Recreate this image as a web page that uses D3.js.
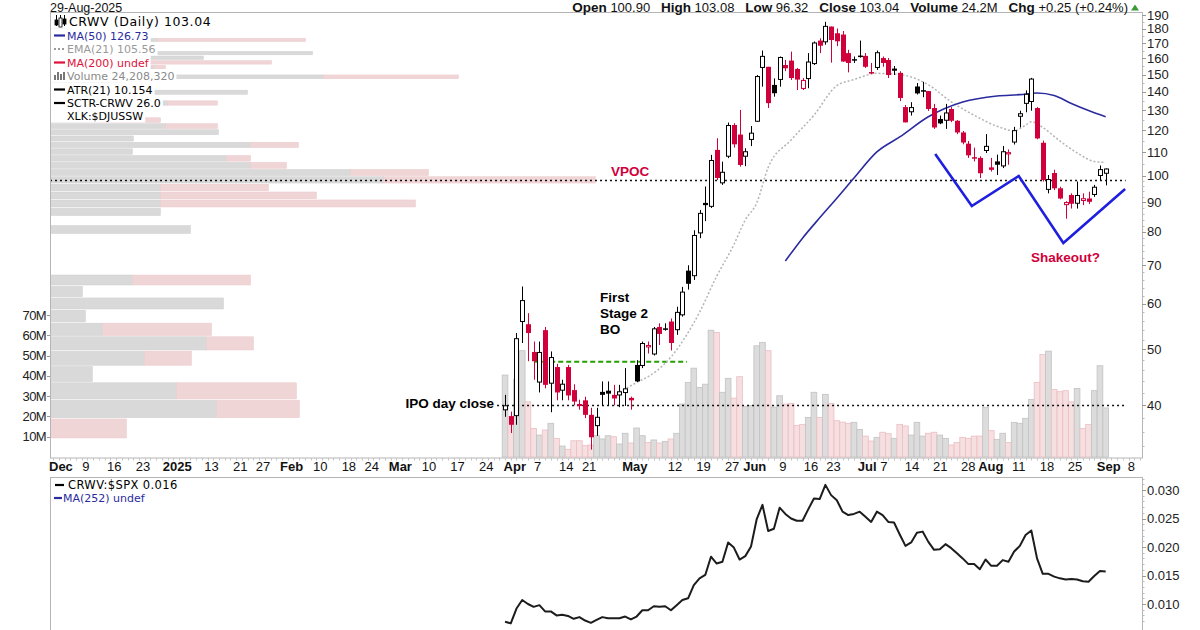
<!DOCTYPE html>
<html>
<head>
<meta charset="utf-8">
<script src="https://cdn.jsdelivr.net/npm/d3@7"></script>
<style>
body { margin: 0; background: #fff; }
svg { display: block; font-family: "Liberation Sans", Arial, sans-serif; }
</style>
</head>
<body>
<script>
'use strict';

// ---- daily candles, Mar 28 2025 (IPO) .. Aug 29 2025 ----
const opens = [39.2,38.3,38.3,55.8,55.3,49.5,43.8,54.0,43.6,46.6,42.4,46.6,42.5,40.0,40.8,38.5,36.8,42.2,42.4,41.7,
  41.6,42.0,41.2,47.0,46.8,50.4,49.0,54.7,54.4,55.9,54.0,57.3,68.5,67.0,79.5,89.8,88.4,111.0,97.1,108.0,
  122.6,118.0,108.0,115.5,124.2,154.0,154.7,143.9,146.8,155.8,158.6,153.4,141.6,147.3,156.4,171.8,170.6,181.7,176.9,176.0,
  163.4,159.5,161.8,161.6,151.5,154.0,160.2,159.0,153.6,151.0,131.7,129.0,143.0,140.9,140.4,131.2,125.6,124.7,130.7,124.7,
  119.0,113.8,107.8,107.5,110.5,103.5,106.0,103.9,109.0,114.3,126.7,133.4,134.4,131.2,114.2,94.6,101.2,95.2,89.0,92.7,
  89.5,90.5,91.4,92.7,100.0,100.90];
const highs = [41.7,39.0,53.4,64.3,57.8,51.6,51.6,54.7,49.6,47.2,44.3,47.0,43.5,40.9,41.4,39.6,39.6,44.0,44.0,43.4,
  43.4,46.4,41.4,47.9,51.6,51.6,54.7,55.5,55.5,56.6,59.3,64.2,70.0,80.5,87.3,95.9,108.8,116.3,105.9,123.8,
  123.5,130.2,111.7,122.1,149.7,165.1,154.7,147.7,161.2,159.0,164.4,154.0,147.9,163.4,171.2,173.4,185.2,181.7,180.3,178.5,
  165.6,161.2,171.8,163.4,157.1,165.1,161.2,160.2,155.2,152.0,132.8,134.3,145.0,145.7,140.4,133.4,127.3,133.4,131.7,125.0,
  119.7,115.0,112.0,108.2,118.2,107.5,108.9,112.7,111.2,121.7,129.8,140.8,148.0,131.7,115.2,100.4,102.5,95.8,90.4,93.3,
  97.8,93.3,93.9,96.5,104.3,103.08];
const lows = [38.2,35.8,37.0,51.3,47.7,44.3,42.1,42.8,38.9,40.8,40.8,40.8,40.0,39.3,38.0,33.5,35.4,39.9,40.0,40.0,
  39.7,39.9,39.3,43.9,46.4,49.2,48.8,50.9,53.9,49.8,53.0,57.0,63.5,66.0,78.0,83.5,88.0,98.4,96.5,107.4,
  112.0,103.8,104.0,112.7,124.2,142.9,131.2,137.3,142.9,152.0,146.8,141.0,141.0,142.0,155.8,163.4,169.0,157.3,168.0,157.8,
  151.3,157.1,160.5,154.0,150.3,152.8,154.7,147.9,149.7,134.9,123.9,127.3,138.5,137.0,129.7,120.7,123.0,120.7,124.0,118.2,
  113.5,107.5,106.0,99.2,109.6,101.8,100.4,103.2,104.6,113.4,121.4,129.0,129.8,115.8,97.8,93.3,94.5,91.1,84.3,87.8,
  87.8,89.0,89.4,92.0,98.4,96.32];
const closes = [40.0,37.0,52.3,60.9,53.4,47.7,49.5,43.4,48.5,42.1,43.6,41.6,40.6,40.2,38.5,35.2,38.2,41.7,41.9,41.1,
  42.3,42.8,40.8,44.0,51.3,50.9,54.4,53.2,54.2,51.3,58.1,63.0,65.0,79.0,86.3,89.0,106.6,99.2,101.7,122.6,
  113.5,104.5,110.4,118.9,149.1,161.6,133.8,139.2,160.9,153.8,147.9,147.0,146.8,158.0,170.5,168.3,182.2,172.2,171.3,158.0,
  157.1,159.0,161.4,154.7,151.1,164.0,157.1,149.7,152.3,136.6,123.9,131.7,139.1,140.5,130.7,121.4,123.4,128.9,124.7,119.0,
  114.3,108.6,107.5,101.1,112.8,102.5,104.6,110.4,110.0,120.1,128.5,138.9,147.6,116.2,98.4,98.8,95.2,91.4,90.1,89.5,
  92.7,91.5,90.2,95.8,102.79,103.04];
// volume, millions of shares
const volumes = [40.4,19.9,38.3,52.4,27.2,14.1,10.8,13.3,16.6,9.2,5.4,3.8,8.0,8.0,5.6,5.9,10.5,8.9,10.5,10.0,
  6.4,11.7,6.9,14.3,10.5,7.2,8.4,6.9,7.7,8.9,11.7,26.1,36.7,43.8,34.3,35.9,62.5,61.4,31.9,38.8,
  29.0,39.6,24.8,25.3,54.8,56.5,52.4,24.6,30.2,26.1,26.4,15.5,16.1,19.5,31.9,19.5,30.9,26.4,17.9,17.2,
  16.6,17.1,13.6,10.3,7.9,9.7,12.2,11.5,9.2,16.1,15.3,10.8,17.1,10.3,11.7,12.2,10.8,9.2,5.9,7.2,
  9.7,9.2,10.3,10.3,24.5,13.0,8.7,11.7,7.2,17.1,16.6,19.1,28.4,36.8,50.6,52.2,33.3,32.2,32.7,27.2,
  33.8,14.1,16.1,32.7,45.0,24.2];

// moving averages (day index, value)
const ma50Idx = [49,52,55,58,61,65,69,74,80,86,90,93,96,99,102,105];
const ma50Val = [71.2,78.0,84.6,91.5,99.2,110.1,116.9,126.7,134.4,137.7,138.4,139.3,137.9,133.6,129.9,126.73];
const ema21Idx = [20,23,26,29,32,34,37,40,42,44,46,50,54,58,61,65,69,74,78,82,86,89,91,92,94,97,100,103,105];
const ema21Val = [42.2,43.8,45.5,48.5,53.5,58,67,76,83.9,89.8,103.5,115.5,127.5,143.5,147,150.7,150,144,134.5,127.5,122,119.8,122.5,124.2,121.4,115,109.7,106.0,105.56];

// CRWV:$SPX ratio, in thousandths
const ratioK = [6.9,6.6,9.2,10.7,10.0,9.5,9.8,8.7,8.7,8.0,8.1,7.9,7.4,7.7,7.1,6.7,7.2,7.7,7.5,7.5,
  7.5,7.8,7.3,7.8,8.9,8.9,9.6,9.5,9.6,8.9,9.8,10.7,11.0,13.3,14.5,15.1,18.3,17.1,17.4,20.8,
  19.9,17.8,18.4,20.1,24.9,27.4,22.8,23.2,26.9,25.8,25.0,24.6,24.6,26.6,28.5,28.4,30.9,29.1,28.2,26.2,
  25.6,25.8,26.2,25.3,24.4,26.2,25.6,24.4,24.3,22.2,20.2,20.8,22.5,22.7,20.9,19.5,19.6,20.5,19.8,18.9,
  18.0,17.0,17.0,16.1,17.8,16.7,16.7,17.7,17.4,19.2,20.2,22.1,22.9,18.0,15.3,15.3,14.8,14.5,14.3,14.4,
  14.3,14.0,13.9,14.9,15.8,15.7];

// volume by price: zones of vbpStep dollars from vbpStart, up / down volume
const vbpStart = 35.0, vbpStep = 2.95;
const vbpUp = [0,83,63,21,47,78,26,17.5,86.5,16,41,0,0,0,0,70,0,55,55,55,55,166.5,150,100,88,41,
  100,41.5,84,57.5,18.5,30,30,58.5,30,98.5,35,35,136.5,40,51.5,50,76.5,131,40,35,53.5,25,15,8,0,0];
const vbpDown = [38,41.5,60,0,23.5,23.5,54.5,0,0,0,59,0,0,0,0,0,0,0,127.5,78,54,106,39,18,12,0,
  24,0,0,26,36.5,15,10,25,0,0,0,0,67.5,10,6,60.5,0,0,0,0,74,0,0,0,0,0];

// axis labels
const priceTicks = [40,50,60,70,80,90,100,110,120,130,140,150,160,170,180,190];
const volTicks = [10,20,30,40,50,60,70];
const ratioTicks = [10,15,20,25,30];
const dateTickIdx = [-79,-74,-69,-64,-58,-52,-47,-43,-38,-33,-28,-24,-19,-14,-9,-4,1,5,10,14,
  22,29,34,39,43,48,53,57,63,66,71,76,81,85,90,95,100,106,110];
const dateTickText = ["Dec","9","16","23","2025","13","21","27","Feb","10","18","24","Mar","10","17","24","Apr","7","14","21",
  "May","12","19","27","Jun","9","16","23","Jul","7","14","21","28","Aug","11","18","25","Sep","8"];
const boldTicks = ["Dec","2025","Feb","Mar","Apr","May","Jun","Jul","Aug","Sep"];

// hand drawn "W" annotation (day index, price)
const shakeIdx = [75.2,81.6,89.8,97.6,108.4];
const shakePrice = [109.2,88.7,100,76.5,94.9];

const red = "#d0003a", blue = "#2b2ba0";
const L = 50, R = 1142, T = 12.5, B = 458;

const svg = d3.select("body").append("svg")
  .attr("width", 1200).attr("height", 630);

const x = d3.scaleLinear().domain([-79.55, 111.35]).range([L, R]);
const y = d3.scaleLog().domain([32.4, 192.2]).range([B, T]);
const yv = d3.scaleLinear().domain([0, 70]).range([457, 315]);
const vx = d3.scaleLinear().domain([0, 272.5]).range([0, 545]);

svg.append("clipPath").attr("id", "main").append("rect")
  .attr("x", L).attr("y", T).attr("width", R - L).attr("height", B - T);
const g = svg.append("g").attr("clip-path", "url(#main)");

// volume by price
vbpUp.forEach(function(u, i) {
  const lo = vbpStart + i * vbpStep, hi = lo + vbpStep;
  const y0 = y(hi) + 0.5, h = Math.max(1, y(lo) - y(hi) - 1.2);
  if (u > 0) g.append("rect").attr("x", L + 0.5).attr("y", y0).attr("width", vx(u)).attr("height", h)
    .attr("fill", "#d9d9d9").attr("stroke", "#cfcfcf").attr("stroke-width", 0.5);
  if (vbpDown[i] > 0) g.append("rect").attr("x", L + 0.5 + vx(u)).attr("y", y0).attr("width", vx(vbpDown[i])).attr("height", h)
    .attr("fill", "#f0d5d7").attr("stroke", "#ebc9cc").attr("stroke-width", 0.5);
});

const days = closes.map(function(c, i) {
  return {i: i, o: opens[i], h: highs[i], l: lows[i], c: c, v: volumes[i],
    up: i === 0 ? true : c >= closes[i - 1]};
});

// volume bars
g.selectAll("rect.vol").data(days).enter().append("rect")
  .attr("class", "vol")
  .attr("x", d => x(d.i) - 2.86).attr("width", 5.72)
  .attr("y", d => yv(d.v)).attr("height", d => 457 - yv(d.v))
  .attr("fill", d => d.up ? "#dcdcdc" : "#f5dfe0")
  .attr("stroke", d => d.up ? "#c2c2c2" : "#ecbfc3")
  .attr("stroke-width", 0.8);

// VPOC
let vp = 0;
vbpUp.forEach(function(u, i) { if (u + vbpDown[i] > vbpUp[vp] + vbpDown[vp]) vp = i; });
const vpPrice = vbpStart + (vp + 0.5) * vbpStep;
g.append("line").attr("x1", L).attr("x2", x(108.5)).attr("y1", Math.round(y(vpPrice)) + 0.5).attr("y2", Math.round(y(vpPrice)) + 0.5)
  .attr("stroke", "#111").attr("stroke-width", 1.3).attr("stroke-dasharray", "2,3");
svg.append("text").attr("x", L + vx(vbpUp[vp] + vbpDown[vp]) + 16).attr("y", y(vpPrice) - 4)
  .attr("fill", red).attr("font-weight", "bold").attr("font-size", 13.5).text("VPOC");

// IPO day close
g.append("line").attr("x1", x(-1.4)).attr("x2", x(108.5)).attr("y1", Math.round(y(closes[0])) + 0.5).attr("y2", Math.round(y(closes[0])) + 0.5)
  .attr("stroke", "#111").attr("stroke-width", 1.3).attr("stroke-dasharray", "2,3");
svg.append("text").attr("x", 494).attr("y", y(closes[0]) + 3).attr("text-anchor", "end")
  .attr("font-weight", "bold").attr("font-size", 13.5).text("IPO day close");

// breakout level
g.append("line").attr("x1", x(5.1)).attr("x2", x(31.8)).attr("y1", y(47.6)).attr("y2", y(47.6))
  .attr("stroke", "#22a000").attr("stroke-width", 2).attr("stroke-dasharray", "5,3");

// averages
const avgLine = d3.line().x(d => x(d[0])).y(d => y(d[1])).curve(d3.curveMonotoneX);
g.append("path").attr("d", avgLine(ema21Idx.map((k, j) => [k, ema21Val[j]])))
  .attr("fill", "none").attr("stroke", "#b4b4b4").attr("stroke-width", 1.5).attr("stroke-dasharray", "2,2");
g.append("path").attr("d", avgLine(ma50Idx.map((k, j) => [k, ma50Val[j]])))
  .attr("fill", "none").attr("stroke", blue).attr("stroke-width", 1.6);

// candles
days.forEach(function(d) {
  const cx = Math.round(x(d.i));
  const col = d.up ? "#000" : red;
  g.append("line").attr("x1", cx + 0.5).attr("x2", cx + 0.5).attr("y1", y(d.h)).attr("y2", y(d.l))
    .attr("stroke", col).attr("stroke-width", 1);
  const top = y(Math.max(d.o, d.c)), bot = y(Math.min(d.o, d.c));
  if (d.c > d.o) {
    g.append("rect").attr("x", cx - 1.5).attr("y", top + 0.5).attr("width", 4).attr("height", Math.max(1, bot - top - 1))
      .attr("fill", "#fff").attr("stroke", col).attr("stroke-width", 1);
  } else {
    g.append("rect").attr("x", cx - 2).attr("y", top).attr("width", 5).attr("height", Math.max(1.5, bot - top))
      .attr("fill", col);
  }
});

// shakeout W
g.append("path").attr("d", d3.line()(shakeIdx.map((k, j) => [x(k), y(shakePrice[j])])))
  .attr("fill", "none").attr("stroke", "#1f1fe0").attr("stroke-width", 2.6).attr("stroke-linejoin", "miter");
svg.append("text").attr("x", 1031).attr("y", 262).attr("fill", red)
  .attr("font-weight", "bold").attr("font-size", 13.5).text("Shakeout?");

const bo = svg.append("text").attr("font-weight", "bold").attr("font-size", 13.5);
["First", "Stage 2", "BO"].forEach(function(t, j) {
  bo.append("tspan").attr("x", 600).attr("y", 302 + j * 16).text(t);
});

// legend
const legendItems = [
  {t: "CRWV (Daily) 103.04", c: "#000", m: "candle", y: 26, s: 12.5},
  {t: "MA(50) 126.73", c: blue, m: "line", y: 39.5},
  {t: "EMA(21) 105.56", c: "#9a9a9a", m: "dots", y: 53},
  {t: "MA(200) undef", c: "#e0103c", m: "line", y: 66.5},
  {t: "Volume 24,208,320", c: "#8a8a8a", m: "bars", y: 80},
  {t: "ATR(21) 10.154", c: "#000", m: "line", y: 93.5},
  {t: "SCTR-CRWV 26.0", c: "#000", m: "line", y: 107},
  {t: "XLK:$DJUSSW", c: "#000", m: "none", y: 120}
];
legendItems.forEach(function(it) {
  const lg = svg.append("g");
  const bg = lg.append("rect").attr("fill", "#fff");
  const tx = lg.append("text").attr("x", it.m === "candle" ? 69 : 67).attr("y", it.y)
    .attr("font-family", "DejaVu Sans, Verdana, sans-serif").attr("font-size", it.s || 11)
    .attr("letter-spacing", it.s ? 0.6 : 0).attr("fill", it.c).text(it.t);
  const w = tx.node().getComputedTextLength();
  bg.attr("x", 51).attr("y", it.y - 11).attr("width", (it.m === "candle" ? 69 : 67) + w - 49).attr("height", 13.5);
  if (it.m === "line") lg.append("line").attr("x1", 54).attr("x2", 65).attr("y1", it.y - 4).attr("y2", it.y - 4)
    .attr("stroke", it.c).attr("stroke-width", 2.2);
  if (it.m === "dots") lg.append("line").attr("x1", 54).attr("x2", 66).attr("y1", it.y - 4).attr("y2", it.y - 4)
    .attr("stroke", it.c).attr("stroke-width", 2).attr("stroke-dasharray", "2,2");
  if (it.m === "bars") [[54, 5], [57, 8], [60, 6], [63, 8]].forEach(function(b) {
    lg.append("rect").attr("x", b[0]).attr("y", it.y - b[1]).attr("width", 2).attr("height", b[1]).attr("fill", "#777");
  });
  if (it.m === "candle") {
    [[56, 4, 7], [60, 2, 9], [64, 3, 6]].forEach(function(b) {
      lg.append("line").attr("x1", b[0] + 0.5).attr("x2", b[0] + 0.5).attr("y1", it.y - 11).attr("y2", it.y).attr("stroke", "#000");
      lg.append("rect").attr("x", b[0] - 1).attr("y", it.y - 10 + b[1]).attr("width", 3).attr("height", b[2] - b[1] + 2)
        .attr("fill", b[0] === 60 ? "#fff" : "#000").attr("stroke", "#000").attr("stroke-width", 0.8);
    });
  }
});

// border and axes
svg.append("rect").attr("x", L + 0.5).attr("y", T).attr("width", R - L).attr("height", B - T)
  .attr("fill", "none").attr("stroke", "#b5b5b5");

priceTicks.forEach(function(p) {
  svg.append("line").attr("x1", R).attr("x2", R + 4).attr("y1", Math.round(y(p)) + 0.5).attr("y2", Math.round(y(p)) + 0.5)
    .attr("stroke", "#999");
  svg.append("text").attr("x", R + 5).attr("y", y(p) + 4.5).attr("font-size", 13).attr("fill", "#222").text(p);
});
d3.range(34, 100, 2).concat(d3.range(105, 192, 5)).forEach(function(p) {
  if (priceTicks.indexOf(p) < 0) svg.append("line").attr("x1", R).attr("x2", R + 2.5)
    .attr("y1", Math.round(y(p)) + 0.5).attr("y2", Math.round(y(p)) + 0.5).attr("stroke", "#bbb");
});

volTicks.forEach(function(v) {
  svg.append("line").attr("x1", L - 3).attr("x2", L).attr("y1", Math.round(yv(v)) + 0.5).attr("y2", Math.round(yv(v)) + 0.5)
    .attr("stroke", "#999");
  svg.append("text").attr("x", L - 4).attr("y", yv(v) + 4.5).attr("text-anchor", "end")
    .attr("font-size", 13).attr("letter-spacing", -0.6).attr("fill", "#222").text(v + "M");
});

d3.range(-79, 112).forEach(function(k) {
  svg.append("line").attr("x1", Math.round(x(k)) + 0.5).attr("x2", Math.round(x(k)) + 0.5).attr("y1", B).attr("y2", B + 2.5)
    .attr("stroke", "#c4c4c4");
});
dateTickIdx.forEach(function(k, j) {
  const t = dateTickText[j];
  const first = j === 0;
  // labels sit a little right of their day early on, a little left late in the axis
  const off = 4 - Math.max(0, k - 40) * 0.1;
  svg.append("text").attr("x", first ? L - 1 : x(k) + off).attr("y", 471)
    .attr("text-anchor", first ? "start" : "middle")
    .attr("font-size", 13).attr("font-weight", boldTicks.indexOf(t) >= 0 ? "bold" : "normal")
    .attr("fill", "#111").text(t);
});

// header
svg.append("text").attr("x", 50).attr("y", 12).attr("font-size", 12.5).attr("fill", "#111").text("29-Aug-2025");
const hd = svg.append("text").attr("x", 1128).attr("y", 12).attr("text-anchor", "end")
  .attr("font-size", 13.5).attr("fill", "#111").style("white-space", "pre");
[["Open", " 100.90   "], ["High", " 103.08   "], ["Low", " 96.32   "], ["Close", " 103.04   "], ["Volume", " 24.2M   "], ["Chg", " +0.25 (+0.24%)"]]
  .forEach(function(p) {
    hd.append("tspan").attr("font-weight", "bold").text(p[0]);
    hd.append("tspan").attr("font-size", 13).text(p[1]);
  });
svg.append("path").attr("d", "M1131,10.5 L1139,10.5 L1135,4.5 Z").attr("fill", "#3a9a3a");

// ---- lower panel: CRWV:$SPX ----
const LT = 477.5, LB = 640;
const yr = d3.scaleLinear().domain([10, 30]).range([604, 490]);
svg.append("clipPath").attr("id", "low").append("rect")
  .attr("x", L).attr("y", LT).attr("width", R - L).attr("height", LB - LT);
svg.append("g").attr("clip-path", "url(#low)").append("path")
  .attr("d", d3.line().x((v, i) => x(i)).y(v => yr(v))(ratioK))
  .attr("fill", "none").attr("stroke", "#1c1c1c").attr("stroke-width", 2).attr("stroke-linejoin", "round");
svg.append("rect").attr("x", L + 0.5).attr("y", LT).attr("width", R - L).attr("height", LB - LT)
  .attr("fill", "none").attr("stroke", "#b5b5b5");
ratioTicks.forEach(function(v) {
  svg.append("line").attr("x1", R).attr("x2", R + 4).attr("y1", Math.round(yr(v)) + 0.5).attr("y2", Math.round(yr(v)) + 0.5)
    .attr("stroke", "#999");
  svg.append("text").attr("x", R + 5).attr("y", yr(v) + 4.5).attr("font-size", 13).attr("fill", "#222")
    .text((v / 1000).toFixed(3));
});
d3.range(7, 33).forEach(function(v) {
  if (ratioTicks.indexOf(v) < 0) svg.append("line").attr("x1", R).attr("x2", R + 2.5)
    .attr("y1", Math.round(yr(v)) + 0.5).attr("y2", Math.round(yr(v)) + 0.5).attr("stroke", "#bbb");
});
svg.append("line").attr("x1", 55).attr("x2", 64).attr("y1", 485).attr("y2", 485).attr("stroke", "#000").attr("stroke-width", 2.2);
svg.append("text").attr("x", 68).attr("y", 489).attr("font-family", "DejaVu Sans, Verdana, sans-serif")
  .attr("font-size", 11.5).attr("letter-spacing", 0.4).text("CRWV:$SPX 0.016");
svg.append("line").attr("x1", 54).attr("x2", 62).attr("y1", 498).attr("y2", 498).attr("stroke", blue).attr("stroke-width", 2.2);
svg.append("text").attr("x", 63).attr("y", 502).attr("font-family", "DejaVu Sans, Verdana, sans-serif")
  .attr("font-size", 11).attr("fill", blue).text("MA(252) undef");
</script>
</body>
</html>
